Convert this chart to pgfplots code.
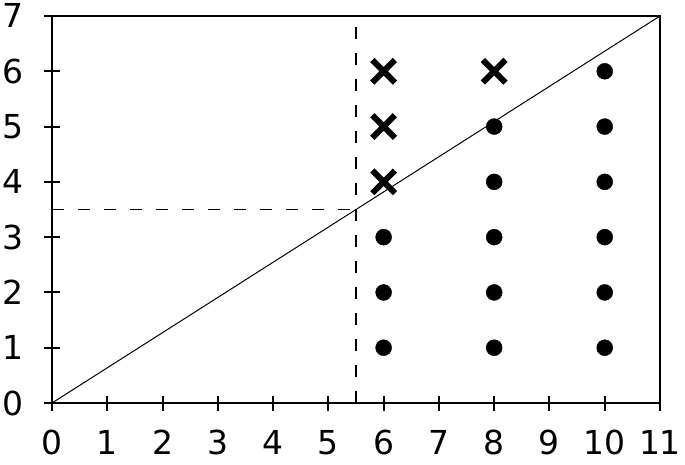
\documentclass[border=0pt]{standalone}
\usepackage{fontspec}
\setmainfont{DejaVu Sans}
\usepackage{pgfplots}
\pgfplotsset{compat=1.18}
\begin{document}
\begin{tikzpicture}
\begin{axis}[
  scale only axis,
  width=608pt, height=387pt,
  xmin=0, xmax=11, ymin=0, ymax=7,
  xtick={0,1,...,11}, ytick={0,1,...,7},
  xtick pos=bottom, ytick pos=left,
  tick align=center,
  major tick length=15pt,
  every tick/.style={line width=2pt, black},
  axis line style={line width=2pt},
  tick label style={font=\fontsize{33}{40}\selectfont, inner sep=1pt, text height=24pt, text depth=0pt},
  /pgf/number format/assume math mode=true,
  xticklabel style={yshift=-19pt},
  yticklabel style={xshift=-20pt},
  clip=false,
]
\addplot[black, line width=1pt] coordinates {(0,0) (11,7)};
\addplot[black, line width=1.5pt, dash pattern=on 12pt off 14pt] coordinates {(5.5,0) (5.5,7)};
\addplot[black, line width=1.5pt, dash pattern=on 12pt off 14pt] coordinates {(0,3.5) (5.5,3.5)};
\addplot[only marks, mark=*, mark size=8pt, mark options={black, fill=black}] coordinates {
(6,1) (6,2) (6,3)
(8,1) (8,2) (8,3) (8,4) (8,5)
(10,1) (10,2) (10,3) (10,4) (10,5) (10,6)
};
\addplot[only marks, mark=x, mark size=16pt, mark options={black, line width=6pt}] coordinates {
(6,4) (6,5) (6,6) (8,6)
};
\end{axis}
\pgfresetboundingbox
\path[use as bounding box] ([xshift=-52pt,yshift=-61pt]current axis.south west) rectangle ([xshift=25pt,yshift=16pt]current axis.north east);
\end{tikzpicture}
\end{document}
